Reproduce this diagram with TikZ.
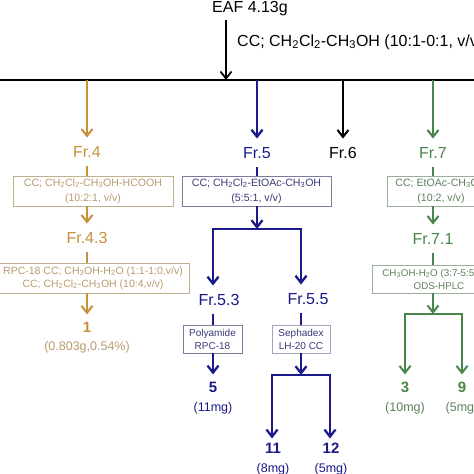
\documentclass[tikz,border=0pt]{standalone}
\usepackage{fontspec}
\setmainfont{Liberation Sans}
\usetikzlibrary{arrows.meta}
\definecolor{org}{HTML}{C8903A}
\definecolor{orgtxt}{HTML}{B89C6E}
\definecolor{orgbox}{HTML}{BFAF8F}
\definecolor{blu}{HTML}{1A1A8A}
\definecolor{blutxt}{HTML}{3A3A78}
\definecolor{blubox}{HTML}{7C7CA0}
\definecolor{grn}{HTML}{4A864A}
\definecolor{grntxt}{HTML}{5E805E}
\definecolor{grnbox}{HTML}{9AAE9A}
\newcommand\myfs[2]{\fontsize{#1}{#2}\selectfont}
\tikzset{
  arr/.style={line width=2pt,-{Straight Barb[length=7pt,width=11pt]}},
  ln/.style={line width=2pt},
  frl/.style={font=\myfs{16}{18}, text height=11.5pt, text depth=0pt, inner xsep=1pt, inner ysep=8.5pt},
  numl/.style={font=\bfseries\myfs{15}{17}, text height=10.7pt, text depth=0pt, inner xsep=1pt, inner ysep=7pt},
  mgl/.style={font=\myfs{12.5}{14}, inner sep=1pt},
  boxs/.style={draw, line width=0.9pt, inner sep=0pt, align=center},
}
\begin{document}
\begin{tikzpicture}[x=1pt,y=-1pt]
\useasboundingbox (0,0) rectangle (474,474);
\clip (0,0) rectangle (474,474);
\fill[white] (0,0) rectangle (474,474);
% top
\node[font=\myfs{16}{18}, inner sep=0pt] (eaf) at (250,8.5) {EAF 4.13g};
\coordinate (eafout) at (226,20);
\coordinate (L) at (-5,80);
\coordinate (R) at (480,80);
\draw[line width=2.4pt] (L) -- (R);
\draw[arr,line width=1.8pt] (eafout) -- (eafout |- L);
\node[font=\myfs{16}{18}, anchor=west, inner sep=0pt] (cond) at (237,42) {CC; CH\textsubscript{2}Cl\textsubscript{2}-CH\textsubscript{3}OH (10:1-0:1, v/v)};
% ---------------- orange branch
\node[frl, text=org] (fr4) at (87,152) {Fr.4};
\draw[arr, org] (fr4 |- L) -- (fr4.north);
\node[boxs, draw=orgbox, text=orgtxt, font=\myfs{10.6}{15}, minimum width=160pt, minimum height=30pt] (b4) at (93,191)
  {CC; CH\textsubscript{2}Cl\textsubscript{2}-CH\textsubscript{3}OH-HCOOH\\(10:2:1, v/v)};
\draw[ln, org] (fr4.south) -- (fr4.south |- b4.north);
\node[frl, text=org] (fr43) at (87,238) {Fr.4.3};
\draw[arr, org] (fr43 |- b4.south) -- (fr43.north);
\node[boxs, draw=orgbox, text=orgtxt, font=\myfs{10.5}{13}, minimum width=193pt, minimum height=30pt] (b43) at (93,278)
  {RPC-18 CC; CH\textsubscript{3}OH-H\textsubscript{2}O (1:1-1:0,v/v)\\CC; CH\textsubscript{2}Cl\textsubscript{2}-CH\textsubscript{3}OH (10:4,v/v)};
\draw[ln, org] (fr43.south) -- (fr43.south |- b43.north);
\node[numl, text=org] (n1) at (87,327) {1};
\draw[arr, org] (n1 |- b43.south) -- (n1.north);
\node[mgl, text=orgtxt] (m1) at (87,347) {(0.803g,0.54\%)};
% ---------------- blue branch
\node[frl, text=blu] (fr5) at (257,153) {Fr.5};
\draw[arr, blu, line width=2.3pt] (fr5 |- L) -- (fr5.north);
\node[boxs, draw=blubox, text=blutxt, font=\myfs{10.6}{15}, minimum width=149pt, minimum height=30pt] (b5) at (256.5,191)
  {CC; CH\textsubscript{2}Cl\textsubscript{2}-EtOAc-CH\textsubscript{3}OH\\(5:5:1, v/v)};
\draw[ln, blu, line width=2.3pt] (fr5.south) -- (fr5.south |- b5.north);
\coordinate (bt) at (257,229);
\coordinate (b53) at (213,229);
\coordinate (b55) at (301,229);
\draw[arr, blu, line width=2.3pt] (b5.south -| bt) -- (bt);
\draw[ln, blu, line width=2.3pt] (b53) -- (b55);
\node[frl, text=blu] (fr53) at (219,300) {Fr.5.3};
\node[frl, text=blu] (fr55) at (308,299) {Fr.5.5};
\draw[arr, blu, line width=2.3pt] ([yshift=1.15pt]b53) -- (b53 |- fr53.north);
\draw[arr, blu, line width=2.3pt] ([yshift=1.15pt]b55) -- (b55 |- fr55.north);
\node[boxs, draw=blubox, text=blutxt, font=\myfs{10}{13}, minimum width=59pt, minimum height=28pt] (p53) at (212.5,339)
  {Polyamide\\RPC-18};
\draw[ln, blu, line width=2.3pt] (b53 |- fr53.south) -- (b53 |- p53.north);
\node[boxs, draw=blubox!70, text=blutxt, font=\myfs{10}{13}, minimum width=58pt, minimum height=28pt] (s55) at (301,339)
  {Sephadex\\LH-20 CC};
\draw[ln, blu, line width=2.3pt] (b55 |- fr55.south) -- (b55 |- s55.north);
\node[numl, text=blu] (n5) at (213,387) {5};
\draw[arr, blu, line width=2.3pt] (b53 |- p53.south) -- (n5.north);
\node[mgl, text=blu] (m5) at (213,408) {(11mg)};
\coordinate (ct) at (301,375);
\coordinate (c11) at (272,375);
\coordinate (c12) at (330,375);
\draw[arr, blu, line width=2.3pt] (s55.south) -- (ct);
\draw[ln, blu, line width=2.3pt] (c11) -- (c12);
\node[numl, text=blu, inner ysep=4pt] (n11) at (273,448) {11};
\node[numl, text=blu, inner ysep=4pt] (n12) at (331,448) {12};
\draw[arr, blu, line width=2.3pt] ([yshift=1.15pt]c11) -- (c11 |- n11.north);
\draw[arr, blu, line width=2.3pt] ([yshift=1.15pt]c12) -- (c12 |- n12.north);
\node[mgl, text=blu] (m11) at (273,469) {(8mg)};
\node[mgl, text=blu] (m12) at (331,469) {(5mg)};
% ---------------- black branch
\node[frl, text=black] (fr6) at (343,153) {Fr.6};
\draw[arr, black] (fr6 |- L) -- (fr6.north);
% ---------------- green branch
\node[frl, text=grn] (fr7) at (433,153) {Fr.7};
\draw[arr, grn] (fr7 |- L) -- (fr7.north);
\node[boxs, draw=grnbox, text=grntxt, font=\myfs{10.6}{15}, minimum width=108pt, minimum height=30pt] (g7) at (441,191)
  {CC; EtOAc-CH\textsubscript{3}OH\\(10:2, v/v)};
\draw[ln, grn] (fr7.south) -- (fr7.south |- g7.north);
\node[frl, text=grn] (fr71) at (433,239) {Fr.7.1};
\draw[arr, grn] (fr71 |- g7.south) -- (fr71.north);
\node[boxs, draw=grnbox, text=grntxt, font=\myfs{9.8}{13}, minimum width=134pt, minimum height=28pt] (h71) at (439,279)
  {CH\textsubscript{3}OH-H\textsubscript{2}O (3:7-5:5, v/v)\\ODS-HPLC};
\draw[ln, grn] (fr71.south) -- (fr71.south |- h71.north);
\coordinate (gt) at (433,314);
\coordinate (g3) at (405,314);
\coordinate (g9) at (462,314);
\draw[arr, grn] (h71.south -| gt) -- (gt);
\draw[ln, grn] (g3) -- (g9);
\node[numl, text=grn] (n3) at (405,387) {3};
\node[numl, text=grn] (n9) at (462,387) {9};
\draw[arr, grn] ([yshift=1pt]g3) -- (g3 |- n3.north);
\draw[arr, grn] ([yshift=1pt]g9) -- (g9 |- n9.north);
\node[mgl, text=grntxt] (m3) at (405,408) {(10mg)};
\node[mgl, text=grntxt] (m9) at (462,408) {(5mg)};
\end{tikzpicture}
\end{document}
